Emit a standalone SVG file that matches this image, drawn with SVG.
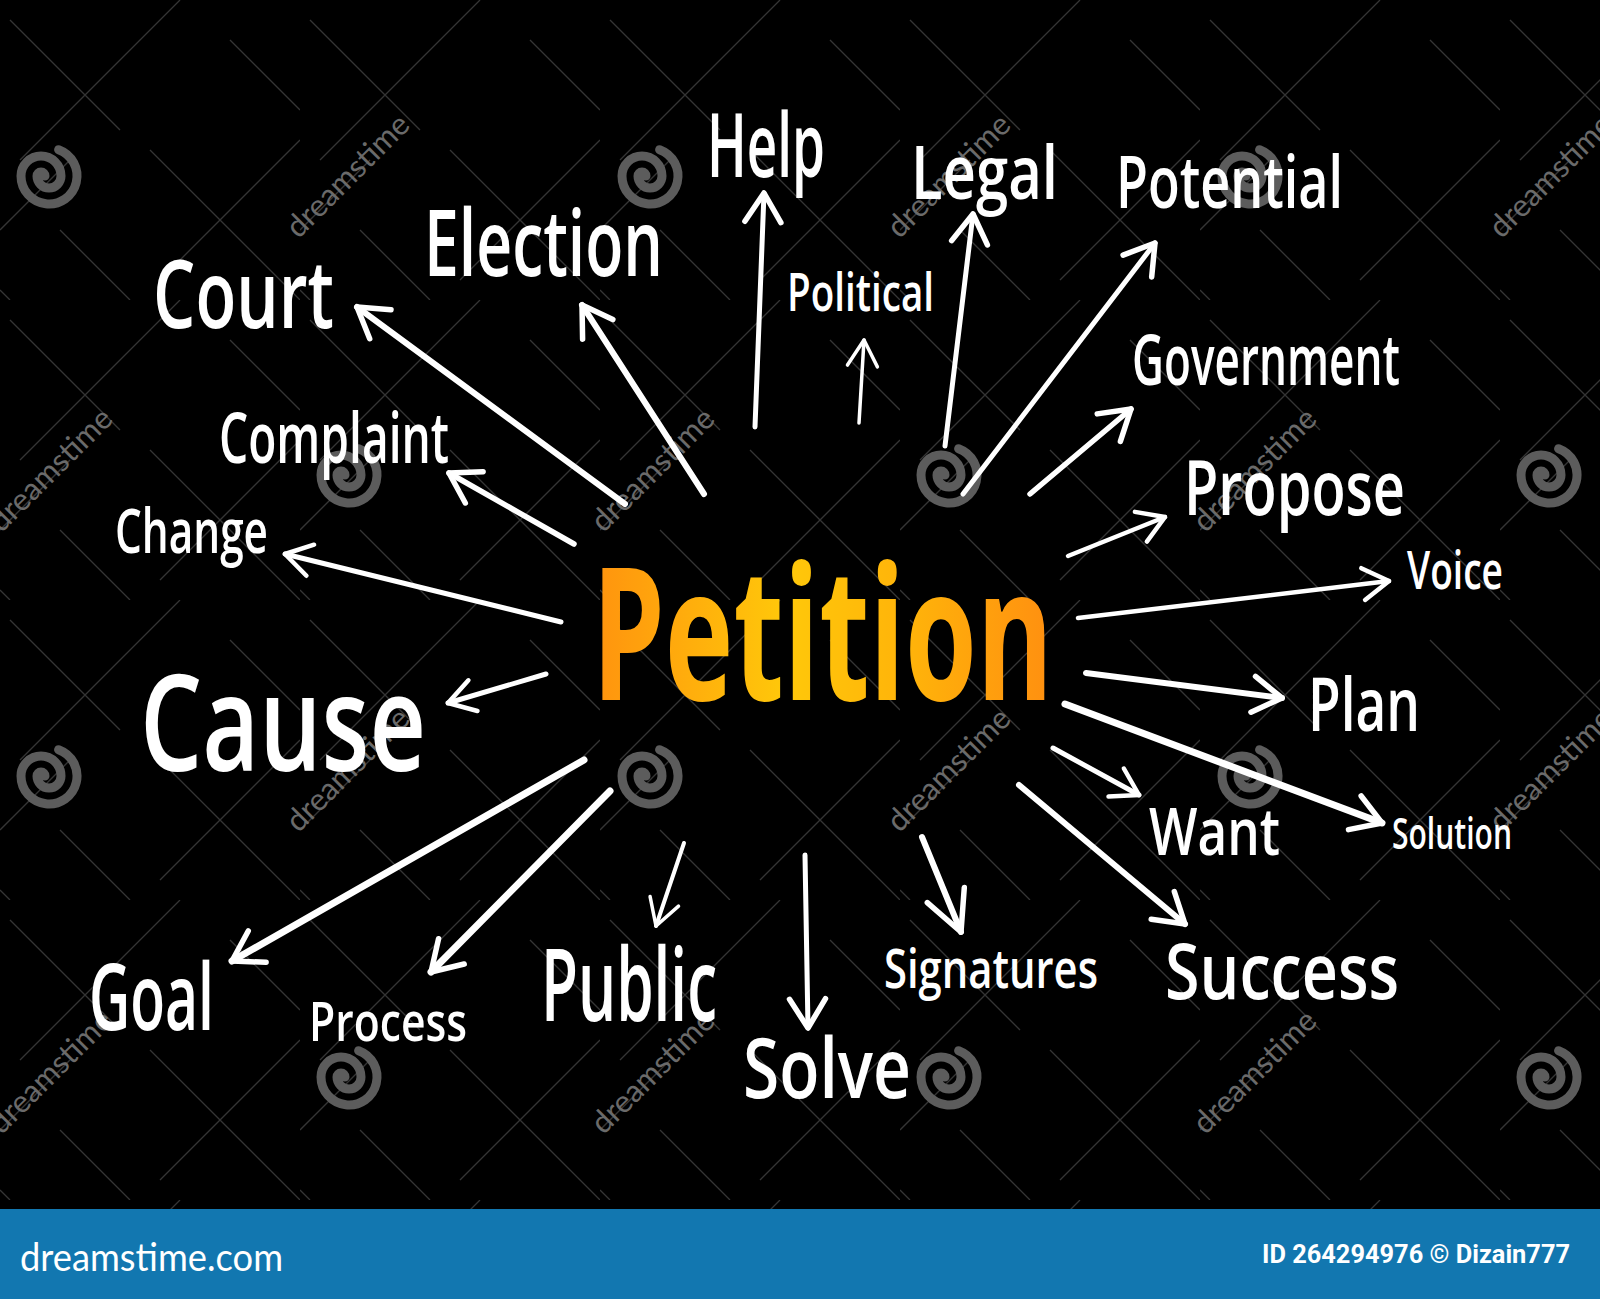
<svg xmlns="http://www.w3.org/2000/svg" width="1600" height="1299" viewBox="0 0 1600 1299">
<style>
.w{fill:#fff;font-family:"Open Sans","Noto Sans","DejaVu Sans",sans-serif;font-weight:550}
.wm{fill:#6a6a6a;font-family:"Lato","Open Sans",sans-serif;font-size:31px;text-anchor:middle}
.ln{stroke:#fff;fill:none;stroke-linecap:round}
.gl{stroke:#353535;stroke-width:1.3;fill:none}
</style>
<defs>
<linearGradient id="pg" x1="592" y1="0" x2="1053" y2="0" gradientUnits="userSpaceOnUse">
<stop offset="0" stop-color="#ff930e"/>
<stop offset="0.42" stop-color="#ffc80a"/>
<stop offset="0.7" stop-color="#ffb20a"/>
<stop offset="1" stop-color="#ff8f10"/>
</linearGradient>
<pattern id="lat" patternUnits="userSpaceOnUse" width="300" height="300">
<path class="gl" d="M10,20 L120,130 M180,0 L20,160 M150,150 L300,300 M300,140 L160,280 M0,290 L10,300 M230,40 L300,110 M60,230 L130,300 M0,230 L70,160"/>
</pattern>
<marker id="al" markerUnits="userSpaceOnUse" orient="auto" overflow="visible" markerWidth="1" markerHeight="1" refX="0" refY="0">
<path d="M-29,-18 L0,0 L-29,18" fill="none" stroke="#fff" stroke-width="5.5" stroke-linecap="round" stroke-linejoin="round"/>
</marker>
<marker id="am" markerUnits="userSpaceOnUse" orient="auto" overflow="visible" markerWidth="1" markerHeight="1" refX="0" refY="0">
<path d="M-26,-16 L0,0 L-26,16" fill="none" stroke="#fff" stroke-width="4.5" stroke-linecap="round" stroke-linejoin="round"/>
</marker>
<marker id="as" markerUnits="userSpaceOnUse" orient="auto" overflow="visible" markerWidth="1" markerHeight="1" refX="0" refY="0">
<path d="M-26,-15 L0,0 L-26,15" fill="none" stroke="#fff" stroke-width="3.5" stroke-linecap="round" stroke-linejoin="round"/>
</marker>
<marker id="ab" markerUnits="userSpaceOnUse" orient="auto" overflow="visible" markerWidth="1" markerHeight="1" refX="0" refY="0">
<path d="M-40,-20 L0,0 L-40,20" fill="none" stroke="#fff" stroke-width="5.5" stroke-linecap="round" stroke-linejoin="round"/>
</marker>
<g id="sp"><path d="M-4,0 A4,4 0 0 0 -12,0 A12,12 0 0 0 12,0 A20,20 0 0 0 -28,0 A28,28 0 1 0 9.6,-26.3" fill="none" stroke="#5c5c5c" stroke-width="9" stroke-linecap="round"/></g>
</defs>
<rect width="1600" height="1299" fill="#000"/>
<rect width="1600" height="1209" fill="url(#lat)"/>
<g id="watermark">
<use href="#sp" x="49" y="176"/><use href="#sp" x="650" y="176"/><use href="#sp" x="1250" y="176"/>
<use href="#sp" x="349" y="475"/><use href="#sp" x="949" y="475"/><use href="#sp" x="1549" y="475"/>
<use href="#sp" x="49" y="776"/><use href="#sp" x="650" y="776"/><use href="#sp" x="1250" y="776"/>
<use href="#sp" x="349" y="1077"/><use href="#sp" x="949" y="1077"/><use href="#sp" x="1549" y="1077"/>
<text class="wm" transform="translate(348,176) rotate(-45)" dy="10">dreamstime</text>
<text class="wm" transform="translate(949,176) rotate(-45)" dy="10">dreamstime</text>
<text class="wm" transform="translate(1551,176) rotate(-45)" dy="10">dreamstime</text>
<text class="wm" transform="translate(51,470) rotate(-45)" dy="10">dreamstime</text>
<text class="wm" transform="translate(653,470) rotate(-45)" dy="10">dreamstime</text>
<text class="wm" transform="translate(1255,470) rotate(-45)" dy="10">dreamstime</text>
<text class="wm" transform="translate(348,770) rotate(-45)" dy="10">dreamstime</text>
<text class="wm" transform="translate(949,770) rotate(-45)" dy="10">dreamstime</text>
<text class="wm" transform="translate(1551,770) rotate(-45)" dy="10">dreamstime</text>
<text class="wm" transform="translate(51,1072) rotate(-45)" dy="10">dreamstime</text>
<text class="wm" transform="translate(653,1072) rotate(-45)" dy="10">dreamstime</text>
<text class="wm" transform="translate(1255,1072) rotate(-45)" dy="10">dreamstime</text>
</g>
<g id="connectors">
<line class="ln" x1="625" y1="504" x2="357" y2="307" stroke-width="6" marker-end="url(#al)"/>
<line class="ln" x1="704" y1="494" x2="582" y2="305" stroke-width="6" marker-end="url(#al)"/>
<line class="ln" x1="755" y1="427" x2="764" y2="193" stroke-width="5" marker-end="url(#al)"/>
<line class="ln" x1="859" y1="423" x2="864" y2="340" stroke-width="3.5" marker-end="url(#as)"/>
<line class="ln" x1="945" y1="446" x2="973" y2="214" stroke-width="5" marker-end="url(#al)"/>
<line class="ln" x1="963" y1="494" x2="1155" y2="243" stroke-width="5" marker-end="url(#al)"/>
<line class="ln" x1="1030" y1="494" x2="1131" y2="409" stroke-width="5.5" marker-end="url(#al)"/>
<line class="ln" x1="1068" y1="556" x2="1165" y2="517" stroke-width="4.5" marker-end="url(#am)"/>
<line class="ln" x1="1078" y1="618" x2="1389" y2="581" stroke-width="4.5" marker-end="url(#am)"/>
<line class="ln" x1="1086" y1="673" x2="1282" y2="698" stroke-width="6" marker-end="url(#al)"/>
<line class="ln" x1="1065" y1="704" x2="1382" y2="823" stroke-width="7" marker-end="url(#al)"/>
<line class="ln" x1="1053" y1="748" x2="1139" y2="795" stroke-width="5" marker-end="url(#am)"/>
<line class="ln" x1="1019" y1="785" x2="1185" y2="924" stroke-width="6" marker-end="url(#al)"/>
<line class="ln" x1="922" y1="837" x2="961" y2="932" stroke-width="6" marker-end="url(#ab)"/>
<line class="ln" x1="805" y1="855" x2="808" y2="1028" stroke-width="5" marker-end="url(#al)"/>
<line class="ln" x1="684" y1="843" x2="656" y2="926" stroke-width="4" marker-end="url(#as)"/>
<line class="ln" x1="610" y1="791" x2="431" y2="972" stroke-width="7" marker-end="url(#al)"/>
<line class="ln" x1="584" y1="760" x2="232" y2="961" stroke-width="7" marker-end="url(#al)"/>
<line class="ln" x1="546" y1="674" x2="448" y2="703" stroke-width="5" marker-end="url(#am)"/>
<line class="ln" x1="561" y1="622" x2="285" y2="554" stroke-width="5" marker-end="url(#am)"/>
<line class="ln" x1="574" y1="544" x2="449" y2="473" stroke-width="5.5" marker-end="url(#al)"/>
</g>
<g id="petition"><text x="592" y="700" textLength="461" lengthAdjust="spacingAndGlyphs" font-family="Open Sans,Noto Sans,sans-serif" font-weight="700" font-size="185" fill="url(#pg)">Petition</text></g>
<g id="help"><text class="w" x="707" y="177" textLength="118" lengthAdjust="spacingAndGlyphs" font-size="88">Help</text></g>
<g id="legal"><text class="w" x="911" y="199" textLength="147" lengthAdjust="spacingAndGlyphs" font-size="74">Legal</text></g>
<g id="potential"><text class="w" x="1116" y="208" textLength="227" lengthAdjust="spacingAndGlyphs" font-size="72">Potential</text></g>
<g id="election"><text class="w" x="424" y="276" textLength="239" lengthAdjust="spacingAndGlyphs" font-size="92">Election</text></g>
<g id="court"><text class="w" x="153" y="328" textLength="181" lengthAdjust="spacingAndGlyphs" font-size="94">Court</text></g>
<g id="political"><text class="w" x="787" y="311" textLength="147" lengthAdjust="spacingAndGlyphs" font-size="52">Political</text></g>
<g id="government"><text class="w" x="1132" y="385" textLength="268" lengthAdjust="spacingAndGlyphs" font-size="70">Government</text></g>
<g id="complaint"><text class="w" x="219" y="463" textLength="230" lengthAdjust="spacingAndGlyphs" font-size="70">Complaint</text></g>
<g id="propose"><text class="w" x="1184" y="515" textLength="221" lengthAdjust="spacingAndGlyphs" font-size="76">Propose</text></g>
<g id="change"><text class="w" x="115" y="553" textLength="153" lengthAdjust="spacingAndGlyphs" font-size="62">Change</text></g>
<g id="voice"><text class="w" x="1407" y="589" textLength="96" lengthAdjust="spacingAndGlyphs" font-size="52">Voice</text></g>
<g id="cause"><text class="w" x="140" y="771" textLength="286" lengthAdjust="spacingAndGlyphs" font-size="135">Cause</text></g>
<g id="plan"><text class="w" x="1308" y="731" textLength="112" lengthAdjust="spacingAndGlyphs" font-size="74">Plan</text></g>
<g id="want"><text class="w" x="1149" y="855" textLength="131" lengthAdjust="spacingAndGlyphs" font-size="66">Want</text></g>
<g id="solution"><text class="w" x="1392" y="849" textLength="120" lengthAdjust="spacingAndGlyphs" font-size="44">Solution</text></g>
<g id="goal"><text class="w" x="89" y="1030" textLength="125" lengthAdjust="spacingAndGlyphs" font-size="92">Goal</text></g>
<g id="process"><text class="w" x="309" y="1041" textLength="158" lengthAdjust="spacingAndGlyphs" font-size="55">Process</text></g>
<g id="public"><text class="w" x="541" y="1021" textLength="176" lengthAdjust="spacingAndGlyphs" font-size="102">Public</text></g>
<g id="signatures"><text class="w" x="884" y="988" textLength="214" lengthAdjust="spacingAndGlyphs" font-size="54">Signatures</text></g>
<g id="success"><text class="w" x="1165" y="999" textLength="234" lengthAdjust="spacingAndGlyphs" font-size="78">Success</text></g>
<g id="solve"><text class="w" x="743" y="1098" textLength="168" lengthAdjust="spacingAndGlyphs" font-size="84">Solve</text></g>
<g id="footer">
<rect x="0" y="1209" width="1600" height="90" fill="#1277b0"/>
<text x="20" y="1271" textLength="263" lengthAdjust="spacingAndGlyphs" font-family="Lato,Open Sans,sans-serif" font-size="38" fill="#fff">dreamstime.com</text>
<text x="1262" y="1263" textLength="308" lengthAdjust="spacingAndGlyphs" font-family="Roboto,sans-serif" font-weight="700" font-size="26" fill="#fff">ID 264294976 © Dizain777</text>
</g>
</svg>
